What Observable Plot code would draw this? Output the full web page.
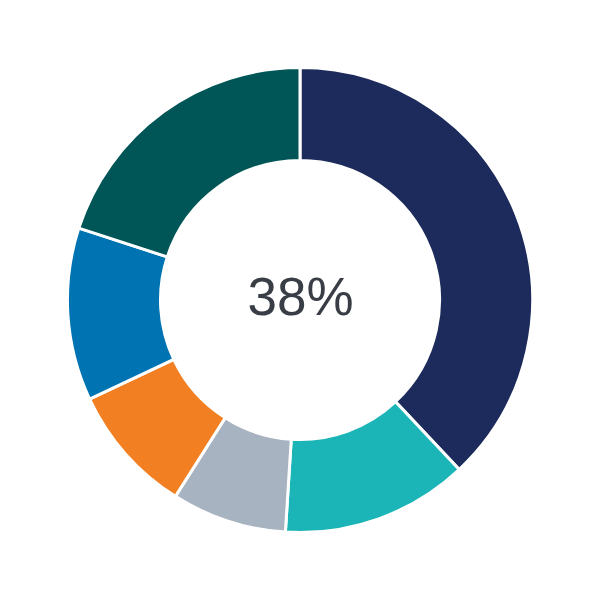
<!DOCTYPE html>
<html>
<head>
<meta charset="utf-8">
<script src="https://cdn.jsdelivr.net/npm/d3@7"></script>
<script src="https://cdn.jsdelivr.net/npm/@observablehq/plot@0.6"></script>
<style>
  html, body { margin: 0; padding: 0; background: #ffffff; }
  #chart { width: 600px; height: 600px; }
</style>
</head>
<body>
<div id="chart"></div>
<script>
// Data (clockwise from 12 o'clock)
const categories = ["Segment 1", "Segment 2", "Segment 3", "Segment 4", "Segment 5", "Segment 6"];
const values = [38, 13, 8, 9, 12, 20];
const colors = ["#1c2b5b", "#1bb5b7", "#a8b3c2", "#f27f21", "#0073b3", "#005556"];
const centerLabel = "38%";

const data = categories.map((c, i) => ({category: c, value: values[i]}));

const innerRatio = 0.6;

function donutMark(index, scales, values_, dimensions, context) {
  const cx = scales.x(0), cy = scales.y(0);
  const R = Math.abs(scales.x(1) - scales.x(0));
  const r = R * innerRatio;
  const pie = d3.pie().sort(null).value(d => d.value)(data);
  const arc = d3.arc().innerRadius(r).outerRadius(R);
  const g = d3.create("svg:g").attr("transform", `translate(${cx},${cy})`);
  g.selectAll("path")
    .data(pie)
    .join("path")
    .attr("d", arc)
    .attr("fill", d => scales.color(d.data.category))
    .attr("stroke", "#ffffff")
    .attr("stroke-width", 3)
    .attr("stroke-linejoin", "miter");
  return g.node();
}

const chart = Plot.plot({
  width: 600,
  height: 600,
  margin: 0,
  style: {background: "#ffffff"},
  x: {domain: [-1.29, 1.29], axis: null},
  y: {domain: [-1.29, 1.29], axis: null},
  color: {domain: categories, range: colors},
  marks: [
    donutMark,
    Plot.text([centerLabel], {
      x: () => 0, y: () => 0,
      text: d => d,
      fontSize: 53,
      fill: "#393e46",
      fontFamily: "'Liberation Sans', Arial, Helvetica, sans-serif",
      dy: -2
    })
  ]
});
document.getElementById("chart").appendChild(chart);
</script>
</body>
</html>
